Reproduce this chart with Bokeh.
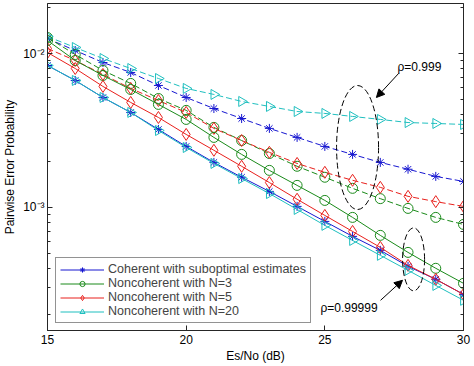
import numpy as np
from bokeh.plotting import figure
from bokeh.models import (Range1d, FixedTicker, LogAxis, Legend, LegendItem,
                          Arrow, NormalHead, Label, CustomJSTickFormatter)
from bokeh.embed import file_html
from bokeh.resources import INLINE

# ---- data ----
es_no = [15, 16, 17, 18, 19, 20, 21, 22, 23, 24, 25, 26, 27, 28, 29, 30]

# rho = 0.999
coh_999 = [12.51e-3, 10.46e-3, 8.74e-3, 7.53e-3, 6.20e-3, 5.18e-3, 4.39e-3, 3.78e-3,
           3.26e-3, 2.85e-3, 2.49e-3, 2.21e-3, 1.96e-3, 1.77e-3, 1.59e-3, 1.475e-3]
n3_999 = [12.70e-3, 9.85e-3, 7.76e-3, 6.39e-3, 5.10e-3, 4.27e-3, 3.31e-3, 2.72e-3,
          2.24e-3, 1.85e-3, 1.57e-3, 1.33e-3, 1.14e-3, 0.985e-3, 0.861e-3, 0.775e-3]
n5_999 = [10.78e-3, 9.01e-3, 7.31e-3, 5.93e-3, 4.95e-3, 4.14e-3, 3.26e-3, 2.72e-3,
          2.28e-3, 1.93e-3, 1.69e-3, 1.50e-3, 1.35e-3, 1.18e-3, 1.09e-3, 1.015e-3]
n20_999 = [12.89e-3, 10.94e-3, 9.28e-3, 7.99e-3, 6.88e-3, 5.93e-3, 5.42e-3, 4.88e-3,
           4.53e-3, 4.20e-3, 4.08e-3, 3.90e-3, 3.73e-3, 3.56e-3, 3.51e-3, 3.46e-3]

# rho = 0.99999
coh_99999 = [8.36e-3, 6.68e-3, 5.18e-3, 4.14e-3, 3.21e-3, 2.49e-3, 1.96e-3, 1.57e-3,
             1.27e-3, 1.015e-3, 0.811e-3, 0.648e-3, 0.526e-3, 0.414e-3, 0.341e-3, 0.272e-3]
n3_99999 = [12.15e-3, 9.01e-3, 7.20e-3, 5.84e-3, 4.67e-3, 3.73e-3, 2.85e-3, 2.21e-3,
            1.74e-3, 1.39e-3, 1.11e-3, 0.861e-3, 0.658e-3, 0.510e-3, 0.402e-3, 0.321e-3]
n5_99999 = [10.15e-3, 7.99e-3, 6.11e-3, 4.81e-3, 3.84e-3, 2.98e-3, 2.35e-3, 1.85e-3,
            1.45e-3, 1.13e-3, 0.887e-3, 0.698e-3, 0.550e-3, 0.420e-3, 0.341e-3, 0.272e-3]
n20_99999 = [8.36e-3, 6.68e-3, 5.18e-3, 4.14e-3, 3.16e-3, 2.45e-3, 1.93e-3, 1.54e-3,
             1.23e-3, 0.970e-3, 0.764e-3, 0.610e-3, 0.488e-3, 0.390e-3, 0.311e-3, 0.249e-3]

labels = ["Coherent with suboptimal estimates", "Noncoherent with N=3",
          "Noncoherent with N=5", "Noncoherent with N=20"]
x_ticks = [15, 20, 25, 30]
y_ticks = [1e-3, 1e-2]

FONT = "Liberation Sans"
AX = "#262626"
colors = ["#1616d0", "#1a8a1a", "#e8201c", "#1fbfbf"]
markers = ["asterisk", "circle", "diamond", "triangle"]
msizes = [9, 10, 12, 10]
angles = [0, 0, 0, -np.pi / 2]

p = figure(width=474, height=366, y_axis_type="log",
           x_range=Range1d(15, 30), y_range=Range1d(10 ** -3.8, 10 ** -1.675),
           output_backend="svg", toolbar_location=None,
           min_border_left=47, min_border_right=11, min_border_top=3, min_border_bottom=36)
p.background_fill_color = "white"
p.border_fill_color = "white"
p.outline_line_color = AX
p.xgrid.visible = False
p.ygrid.visible = False

# axes
minor_y = [m * 10.0 ** e for e in (-4, -3) for m in range(2, 10)] + [2e-2]
p.xaxis.ticker = FixedTicker(ticks=x_ticks)
p.yaxis.ticker = FixedTicker(ticks=y_ticks, minor_ticks=minor_y)
p.yaxis.formatter = CustomJSTickFormatter(
    code="return tick < 0.005 ? '10\u207B\u00B3' : '10\u207B\u00B2';")
for ax in (p.xaxis[0], p.yaxis[0]):
    ax.axis_line_color = AX
    ax.major_tick_line_color = AX
    ax.minor_tick_line_color = AX
    ax.major_tick_in = 5
    ax.major_tick_out = 0
    ax.minor_tick_in = 3
    ax.minor_tick_out = 0
    ax.major_label_text_font = FONT
    ax.major_label_text_font_size = "12px"
    ax.major_label_text_color = "black"
    ax.axis_label_text_font = FONT
    ax.axis_label_text_font_size = "12px"
    ax.axis_label_text_font_style = "normal"
    ax.axis_label_text_color = "black"
p.xaxis.axis_label = "Es/No (dB)"
p.yaxis.axis_label = "Pairwise Error Probability"
p.xaxis.major_label_standoff = 4
p.xaxis.axis_label_standoff = 2
p.yaxis.major_label_standoff = 3
p.yaxis.axis_label_standoff = 3

blank = CustomJSTickFormatter(code="return '';")
right = LogAxis(ticker=FixedTicker(ticks=y_ticks, minor_ticks=minor_y), formatter=blank,
                major_tick_in=5, major_tick_out=0, minor_tick_in=3, minor_tick_out=0,
                major_label_standoff=0, axis_line_color=AX, major_tick_line_color=AX,
                minor_tick_line_color=AX, major_label_text_font_size="1px")
p.add_layout(right, "right")

# curves
series_999 = [coh_999, n3_999, n5_999, n20_999]
series_99999 = [coh_99999, n3_99999, n5_99999, n20_99999]
items = []
for i in range(4):
    p.line(es_no, series_999[i], line_color=colors[i], line_width=1, line_dash="6 3")
    p.scatter(es_no, series_999[i], marker=markers[i], size=msizes[i], angle=angles[i],
              fill_color=None, line_color=colors[i], line_width=1)
for i in range(4):
    lr = p.line(es_no, series_99999[i], line_color=colors[i], line_width=1)
    sr = p.scatter(es_no, series_99999[i], marker=markers[i], size=msizes[i], angle=angles[i],
                   fill_color=None, line_color=colors[i], line_width=1)
    items.append(LegendItem(label=labels[i], renderers=[lr, sr]))

legend = Legend(items=items, location=(8, 7), label_text_font=FONT,
                label_text_font_size="12.5px", glyph_width=44, glyph_height=13,
                label_standoff=4, spacing=0, padding=4, margin=0, label_height=14,
                border_line_color=AX, border_line_width=1, background_fill_color="white",
                background_fill_alpha=1.0)
p.add_layout(legend)

# annotations
p.ellipse(x=[26.18], y=[2.45e-3], width=42, height=124, width_units="screen",
          height_units="screen", fill_color=None, line_color="black", line_dash="6 3",
          line_width=1)
p.ellipse(x=[28.20], y=[0.4595e-3], width=22, height=63, width_units="screen",
          height_units="screen", fill_color=None, line_color="black", line_dash="6 3",
          line_width=1)
p.add_layout(Arrow(end=NormalHead(size=8, fill_color="black", line_color="black"),
                   x_start=27.66, y_start=7.42e-3, x_end=26.86, y_end=5.18e-3,
                   line_color="black", line_width=1))
p.add_layout(Arrow(end=NormalHead(size=8, fill_color="black", line_color="black"),
                   x_start=27.01, y_start=0.249e-3, x_end=27.80, y_end=0.336e-3,
                   line_color="black", line_width=1))
p.add_layout(Label(x=27.62, y=8.23e-3, text="\u03c1=0.999", text_font=FONT,
                   text_font_size="12px", text_baseline="middle", text_color="black"))
p.add_layout(Label(x=24.84, y=0.221e-3, text="\u03c1=0.99999", text_font=FONT,
                   text_font_size="12px", text_baseline="middle", text_color="black"))

open("out.html", "w").write(file_html(p, INLINE))
